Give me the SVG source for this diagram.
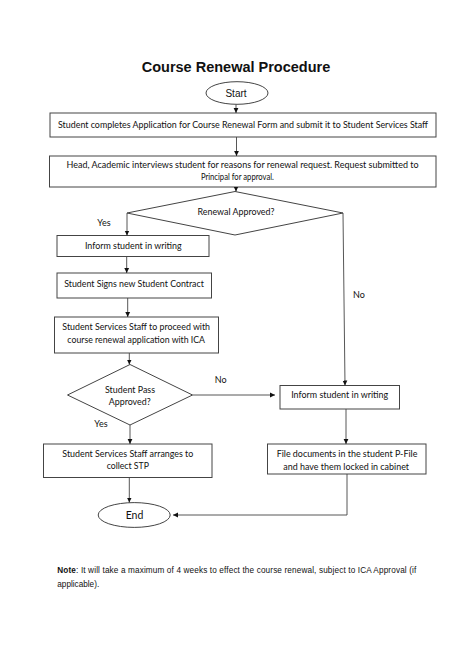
<svg xmlns="http://www.w3.org/2000/svg" width="474" height="670" viewBox="0 0 474 670">
<defs>
<marker id="ah" markerUnits="userSpaceOnUse" markerWidth="6" markerHeight="6" refX="5" refY="3" orient="auto">
<path d="M0,0.6 L5,3 L0,5.4 Z" fill="#111"/>
</marker>
<style>
.box{fill:#fff;stroke:#444;stroke-width:1}
.t{font-family:Lato,"Liberation Sans",sans-serif;font-size:9px;fill:#111;text-anchor:middle}
.c{fill:none;stroke:#444;stroke-width:0.9;marker-end:url(#ah)}
.l{fill:none;stroke:#444;stroke-width:0.9}
</style>
</defs>
<rect width="474" height="670" fill="#fff"/>
<text x="236" y="72" font-family="Liberation Sans,Arial,sans-serif" font-size="14.5" font-weight="bold" text-anchor="middle" fill="#111">Course Renewal Procedure</text>

<g id="start">
<ellipse class="box" cx="237" cy="93" rx="31" ry="11.3"/>
<text x="236" y="96.5" font-family="Liberation Sans,Arial,sans-serif" font-size="10" text-anchor="middle" fill="#111">Start</text>
</g>
<g id="box1">
<rect class="box" x="50" y="113" width="386" height="24"/>
<text class="t" x="243" y="128" textLength="370" lengthAdjust="spacingAndGlyphs">Student completes Application for Course Renewal Form and submit it to Student Services Staff</text>
</g>
<g id="box2">
<rect class="box" x="49.5" y="156" width="386.5" height="31"/>
<text class="t" x="242.5" y="168" textLength="352" lengthAdjust="spacingAndGlyphs">Head, Academic interviews student for reasons for renewal request. Request submitted to</text>
<text class="t" x="237.4" y="179.5" textLength="73" lengthAdjust="spacingAndGlyphs">Principal for approval.</text>
</g>
<g id="decision1">
<polygon class="box" points="235,191.5 343,213 235,235 127,213"/>
<text class="t" x="236" y="215" textLength="77" lengthAdjust="spacingAndGlyphs">Renewal Approved?</text>
</g>
<g id="inform1">
<rect class="box" x="57" y="235.5" width="152" height="21"/>
<text class="t" x="133.3" y="248.5" textLength="96.7" lengthAdjust="spacingAndGlyphs">Inform student in writing</text>
</g>
<g id="signs">
<rect class="box" x="57" y="273" width="154.5" height="25"/>
<text class="t" x="134" y="287.3" textLength="139.7" lengthAdjust="spacingAndGlyphs">Student Signs new Student Contract</text>
</g>
<g id="box3">
<rect class="box" x="54.5" y="317" width="164" height="36"/>
<text class="t" x="136.2" y="330" textLength="147.7" lengthAdjust="spacingAndGlyphs">Student Services Staff to proceed with</text>
<text class="t" x="136.2" y="342.5" textLength="137.7" lengthAdjust="spacingAndGlyphs">course renewal application with ICA</text>
</g>
<g id="decision2">
<polygon class="box" points="130,364.5 192.5,395 130,425 67.5,395"/>
<text class="t" x="130" y="392.5" textLength="50" lengthAdjust="spacingAndGlyphs">Student Pass</text>
<text class="t" x="129.7" y="405" textLength="42" lengthAdjust="spacingAndGlyphs">Approved?</text>
</g>
<g id="inform2">
<rect class="box" x="280" y="385.5" width="119.5" height="23.5"/>
<text class="t" x="339.7" y="398.3" textLength="97" lengthAdjust="spacingAndGlyphs">Inform student in writing</text>
</g>
<g id="box4">
<rect class="box" x="43.5" y="444" width="168.5" height="33.5"/>
<text class="t" x="127.8" y="456.5" textLength="131" lengthAdjust="spacingAndGlyphs">Student Services Staff arranges to</text>
<text class="t" x="127.8" y="469" textLength="42.3" lengthAdjust="spacingAndGlyphs">collect STP</text>
</g>
<g id="box5">
<rect class="box" x="267.5" y="444" width="158.5" height="30"/>
<text class="t" x="347" y="457" textLength="140.7" lengthAdjust="spacingAndGlyphs">File documents in the student P-File</text>
<text class="t" x="346.2" y="469.5" textLength="125.7" lengthAdjust="spacingAndGlyphs">and have them locked in cabinet</text>
</g>
<g id="end">
<ellipse class="box" cx="134.2" cy="515" rx="36" ry="12.4"/>
<text x="134.5" y="518.8" font-family="Lato,'Liberation Sans',sans-serif" font-size="10.5" text-anchor="middle" fill="#111">End</text>
</g>

<g id="connectors">
<path class="c" d="M236,104.5 V113"/>
<path class="c" d="M236.5,137 V156"/>
<path class="c" d="M236,187 V191.5"/>
<path class="c" d="M127,213 V235.5"/>
<path class="c" d="M343,213 L345,385.5"/>
<path class="c" d="M126.7,256.5 V273"/>
<path class="c" d="M127.7,298 V317"/>
<path class="c" d="M129.3,353 V364.5"/>
<path class="c" d="M192.5,395 H275"/>
<path class="c" d="M130,425 V444"/>
<path class="c" d="M346,409 V444"/>
<path class="c" d="M129.3,477.5 V502.5"/>
<path class="c" d="M347,474 V515 H173"/>
</g>
<g id="labels">
<text class="t" x="104" y="226">Yes</text>
<text class="t" x="359" y="298">No</text>
<text class="t" x="220.7" y="382.5">No</text>
<text class="t" x="101" y="427">Yes</text>
</g>
<text font-family="Liberation Sans,Arial,sans-serif" font-size="8.2" fill="#111" x="57.3" y="572.5" textLength="359" lengthAdjust="spacing"><tspan font-weight="bold">Note</tspan>: It will take a maximum of 4 weeks to effect the course renewal, subject to ICA Approval (if</text>
<text font-family="Liberation Sans,Arial,sans-serif" font-size="8.2" fill="#111" x="57.3" y="586.5">applicable).</text>
</svg>
